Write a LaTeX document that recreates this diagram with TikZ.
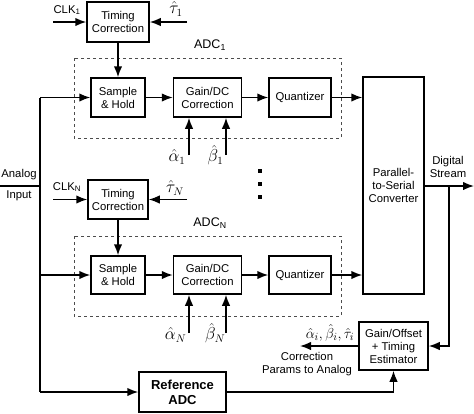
\documentclass[tikz,border=0pt]{standalone}
\usepackage{fontspec}
\setmainfont{Liberation Sans}
\usetikzlibrary{arrows.meta}
\begin{document}
\begin{tikzpicture}[x=1pt,y=-1pt,line width=1.5pt,
  >={Latex[length=11pt,width=8.5pt]},
  txt/.style={font=\fontsize{11.3}{13}\selectfont,align=center,inner sep=0pt},
  blk/.style n args={2}{draw,fill=white,minimum width=#1pt,minimum height=#2pt,
     inner sep=1pt,align=center,font=\fontsize{11.3}{13}\selectfont},
  grp/.style={draw=black!70,dashed,line width=0.7pt},
  mth/.style={inner sep=0pt,font=\fontsize{16}{18}\selectfont},
  dot/.style={fill=black,inner sep=0pt,minimum size=3.5pt}]
\useasboundingbox (0,0) rectangle (474,413);
% dashed groups
\draw[grp] (74,58) rectangle (341,138);
\draw[grp] (74,236) rectangle (341,316);
\node[txt,font=\fontsize{12.5}{14}\selectfont] (adc1) at (210,45) {ADC\textsubscript{1}};
\node[txt,font=\fontsize{12.5}{14}\selectfont] (adcN) at (210,223) {ADC\textsubscript{N}};
% blocks
\node[blk={62}{40}] (tc1) at (118,22) {Timing\\Correction};
\node[blk={54}{39}] (sh1) at (118,97.5) {Sample\\\& Hold};
\node[blk={68}{39}] (gd1) at (207.5,97.5) {Gain/DC\\Correction};
\node[blk={62}{39}] (q1) at (300,97.5) {Quantizer};
\node[blk={61}{217}] (ps) at (393.5,185.5) {Parallel-\\to-Serial\\Converter};
\node[blk={60}{39}] (tcN) at (118,199.5) {Timing\\Correction};
\node[blk={54}{38}] (shN) at (118,275) {Sample\\\& Hold};
\node[blk={68}{38}] (gdN) at (207.5,275) {Gain/DC\\Correction};
\node[blk={62}{38}] (qN) at (300,275) {Quantizer};
\node[blk={87}{40},font=\fontsize{13}{15}\selectfont\bfseries] (ref) at (182.5,392) {Reference\\ADC};
\node[blk={69}{48}] (est) at (393.5,346) {Gain/Offset\\+ Timing\\Estimator};
% labels
\node[txt] (clk1) at (67,10) {CLK\textsubscript{1}};
\node[txt] (clkN) at (67,187) {CLK\textsubscript{N}};
\node[mth] (tau1) at (176,9) {$\hat{\tau}_1$};
\node[mth] (tauN) at (175,188) {$\hat{\tau}_N$};
\node[mth,anchor=east] (al1) at (186,157) {$\hat{\alpha}_1$};
\node[mth,anchor=east] (be1) at (224,155) {$\hat{\beta}_1$};
\node[mth,anchor=east] (alN) at (187,335) {$\hat{\alpha}_N$};
\node[mth,anchor=east] (beN) at (226,333) {$\hat{\beta}_N$};
\node[txt] (ain) at (19,175) {Analog};
\node[txt] (ain2) at (19,196) {Input};
\node[txt] (dig) at (448,167) {Digital\\Stream};
\node[mth,anchor=east,font=\fontsize{15}{17}\selectfont] (par) at (355,333) {$\hat{\alpha}_i,\hat{\beta}_i,\hat{\tau}_i$};
\node[txt] (corr) at (307,364) {Correction\\Params to Analog};
\node[dot] (d1) at (260,171) {};
\node[dot] (d2) at (260,184) {};
\node[dot] (d3) at (260,197) {};
% coordinates
\coordinate (clk1s) at (53,22);
\coordinate (tau1s) at (187,22);
\coordinate (clkNs) at (53,199.5);
\coordinate (tauNs) at (187,199.5);
\coordinate (ina) at (0,186);
\coordinate (inb) at (40,186);
\coordinate (in1) at (40,97.5);
\coordinate (inN) at (40,275);
\coordinate (inR) at (40,392);
\coordinate (a1s) at (189,155);
\coordinate (b1s) at (226,155);
\coordinate (aNs) at (189,333);
\coordinate (bNs) at (226,333);
\coordinate (dout) at (474,186);
\coordinate (fb1) at (449,186);
\coordinate (fb2) at (449,346);
\coordinate (rb) at (393.5,392);
\coordinate (pout) at (300,346);
% connectors
\draw[->] (clk1s) -- (tc1.west);
\draw[->] (tau1s) -- (tc1.east);
\draw[->] (clkNs) -- (tcN.west);
\draw[->] (tauNs) -- (tcN.east);
\draw[->] (tc1) -- (sh1);
\draw[->] (tcN) -- (shN);
\draw[->] (sh1) -- (gd1);
\draw[->] (gd1) -- (q1);
\draw[->] (shN) -- (gdN);
\draw[->] (gdN) -- (qN);
\draw[->] (q1.east) -- (q1.east -| ps.west);
\draw[->] (qN.east) -- (qN.east -| ps.west);
\draw[->] (a1s) -- (a1s |- gd1.south);
\draw[->] (b1s) -- (b1s |- gd1.south);
\draw[->] (aNs) -- (aNs |- gdN.south);
\draw[->] (bNs) -- (bNs |- gdN.south);
\draw (ina) -- (inb);
\draw (in1) -- (inR);
\draw[->] (in1) -- (sh1.west);
\draw[->] (inN) -- (shN.west);
\draw[->] (inR) -- (ref.west);
\draw[->] (fb1 -| ps.east) -- (dout);
\draw[->] (fb1) -- (fb2) -- (est.east);
\draw[->] (ref.east) -- (rb) -- (est.south);
\draw[->] (est.west) -- (pout);
\end{tikzpicture}
\end{document}
